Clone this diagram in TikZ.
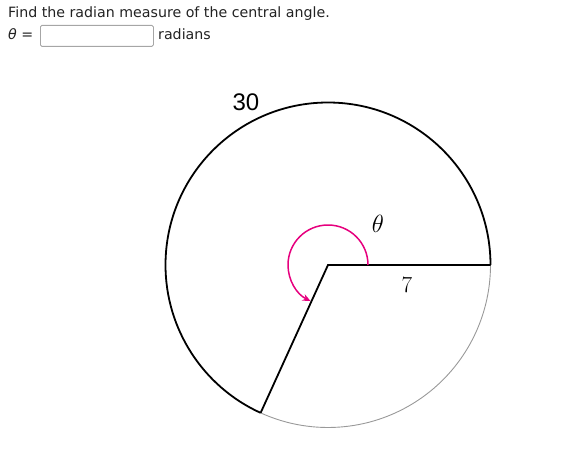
\documentclass[tikz,border=0pt]{standalone}
\usepackage{fontspec}
\setmainfont{DejaVu Sans}
\newfontfamily\arialf{Liberation Sans}
\newfontfamily\lmr{Latin Modern Roman}
\usetikzlibrary{arrows.meta,calc}
\definecolor{pinkarc}{RGB}{230,0,126}
\definecolor{txt}{RGB}{34,34,34}
\tikzset{
  hdr/.style={anchor=base west, inner sep=0pt, text=txt, font=\fontsize{14.2}{16}\selectfont},
  ansbox/.style={draw=gray!70, rounded corners=1.5pt, line width=0.8pt, minimum width=113pt, minimum height=21pt, inner sep=0pt, anchor=north west},
  heavy/.style={line width=1.8pt, black},
  light/.style={line width=0.9pt, gray!80},
  angarc/.style={line width=1.5pt, pinkarc, -{Stealth[length=8pt,width=7pt]}},
  lbl/.style={inner sep=0pt}
}
\begin{document}
\begin{tikzpicture}[x=1pt,y=1pt]
\useasboundingbox (0,0) rectangle (573,451);
\node[hdr] (q) at (8,433) {Find the radian measure of the central angle.};
\node[hdr] (th) at (8,411) {\textit{θ} =};
\node[ansbox] (box) at (40,426) {};
\node[hdr] (rad) at (158,411) {radians};
\coordinate (C) at (328,186);
\coordinate (A) at ($(C)+(162.5,0)$);
\path (C) ++(245.5:162.5) coordinate (B);
\draw[light] (B) arc[start angle=245.5, end angle=360, radius=162.5];
\draw[heavy] (A) arc[start angle=0, end angle=245.5, radius=162.5];
\draw[heavy, line join=miter] (A) -- (C) -- (B);
\draw[angarc] (C) ++(40,0) arc[start angle=0, end angle=244, radius=40];
\node[lbl, font=\arialf\fontsize{24}{26}\selectfont] (l30) at (246,349) {30};
\node[lbl, font=\fontsize{23}{26}\selectfont] (lth) at (378,227) {$\theta$};
\node[lbl, font=\lmr\fontsize{23}{26}\selectfont] (l7) at (407,166) {7};
\end{tikzpicture}
\end{document}
